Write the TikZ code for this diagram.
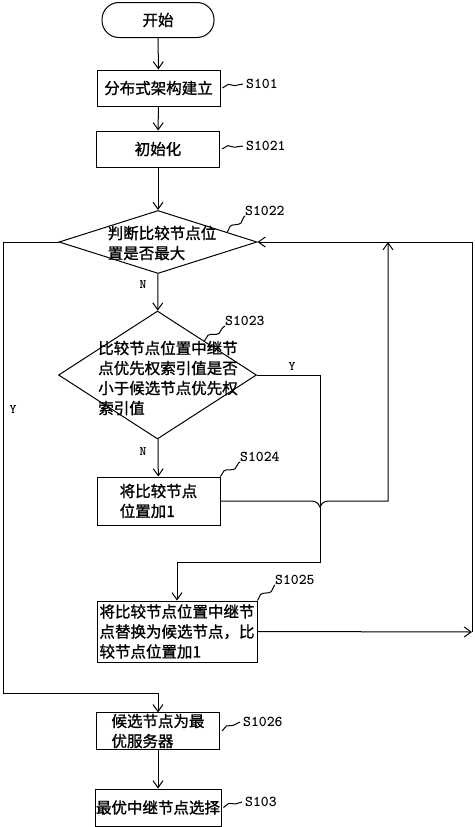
\documentclass[tikz,border=0pt]{standalone}
\usepackage{fontspec}
\newfontfamily\cjk[FakeBold=1.2]{Noto Sans CJK SC}
\usetikzlibrary{shapes.geometric,arrows.meta,decorations.pathmorphing}
\tikzset{
  flow/.style={line width=1pt},
  box/.style={flow, draw, rectangle, minimum width=123pt, minimum height=36pt, inner sep=1pt, align=left, font={\cjk\fontsize{15.5}{20}\selectfont}},
  dec/.style={flow, draw, diamond, inner sep=0pt, minimum width=198pt},
  txt/.style={align=left, inner sep=0pt, font={\cjk\fontsize{15.5}{20}\selectfont}},
  tag/.style={anchor=west, inner sep=0pt, font={\ttfamily\bfseries\fontsize{15}{15}\selectfont}},
  yn/.style={inner sep=0pt, font={\ttfamily\bfseries\fontsize{13}{13}\selectfont}},
  squig/.style={flow, decorate, decoration={snake, segment length=20pt, amplitude=2.5pt}},
  >={Straight Barb[length=7pt,width=10pt]},
}
\begin{document}
\begin{tikzpicture}[x=1pt, y=-1pt]
        \useasboundingbox (0,0) rectangle (474,827);

        % Define the steps
        \node[box, rounded corners=17pt, minimum width=112pt, minimum height=35pt] (start) at (158,20) {开始};
        \node[box] (s101) at (158.5,88) {分布式架构建立};
        \node[box] (s1021) at (158,149) {初始化};
        \node[dec, minimum height=63pt] (d1) at (158,242) {};
        \node[txt] (q1) at (162,243) {判断比较节点位\\置是否最大};
        \node[dec, minimum height=128pt] (d2) at (157.5,375) {};
        \node[txt] (q2) at (168,378) {比较节点位置中继节\\点优先权索引值是否\\小于候选节点优先权\\索引值};
        \node[box, minimum height=48pt] (s1024) at (158.5,501) {将比较节点\\位置加1};
        \node[box, minimum width=160pt, minimum height=61pt] (s1025) at (177,631.5) {将比较节点位置中继节\\点替换为候选节点，比\\较节点位置加1};
        \node[box] (s1026) at (158,731) {候选节点为最\\优服务器};
        \node[box, minimum height=37pt] (s103) at (158,807.5) {最优中继节点选择};

        % Step labels
        \node[tag] (t101) at (246,84) {S101};
        \node[tag] (t1021) at (246,146) {S1021};
        \node[tag] (t1022) at (245,211) {S1022};
        \node[tag] (t1023) at (225,321) {S1023};
        \node[tag] (t1024) at (240,457) {S1024};
        \node[tag] (t1025) at (275,580) {S1025};
        \node[tag] (t1026) at (243,722) {S1026};
        \node[tag] (t103) at (245,802) {S103};

        \draw[squig] ([xshift=2pt]s101.east) -- ([xshift=-3pt]t101.west);
        \draw[squig] ([xshift=2pt]s1021.east) -- ([xshift=-3pt]t1021.west);
        \draw[squig] (d1.8) -- (t1022.south west);
        \draw[squig] (d2.36) -- (t1023.south west);
        \draw[squig] (s1024.north east) -- (t1024.south west);
        \draw[squig] (s1025.north east) -- (t1025.south west);
        \draw[squig] ([xshift=2pt]s1026.east) -- ([xshift=-3pt]t1026.west);
        \draw[squig] ([xshift=2pt]s103.east) -- ([xshift=-3pt]t103.west);

        % Corner points
        \coordinate (lft) at (3,693);
        \coordinate (ybr) at (320,562);
        \coordinate (up) at (388,242);
        \coordinate (rt) at (472,632);

        % Draw arrows
        \draw[flow,->] (start) -- (s101);
        \draw[flow,->] (s101) -- (s1021);
        \draw[flow,->] (s1021) -- (d1);
        \draw[flow,->] (d1) -- (d2);
        \draw[flow,->] (d2) -- (s1024);
        \draw[flow,->] (d1.west) -| (lft) -| (s1026.north);
        \draw[flow,->] (d2.east) -| (ybr) -| (s1025.north);
        \draw[flow,->] (s1024.east) -- ([xshift=-9pt]s1024.east -| ybr)
            .. controls +(5,0) and +(-2,-4) .. ([yshift=-6pt]s1024.east -| ybr)
            .. controls +(2,-4) and +(-5,0) .. ([xshift=9pt]s1024.east -| ybr) -| (up);
        \draw[flow,->] (s1025.east) -- (rt);
        \draw[flow,->] (rt) |- (d1.east);
        \draw[flow,->] (s1026) -- (s103);

        % Branch marks
        \node[yn] (n1) at (143,285) {N};
        \node[yn] (n2) at (143,452) {N};
        \node[yn] (y1) at (13,410) {Y};
        \node[yn] (y2) at (292,367) {Y};
    \end{tikzpicture}
\end{document}
